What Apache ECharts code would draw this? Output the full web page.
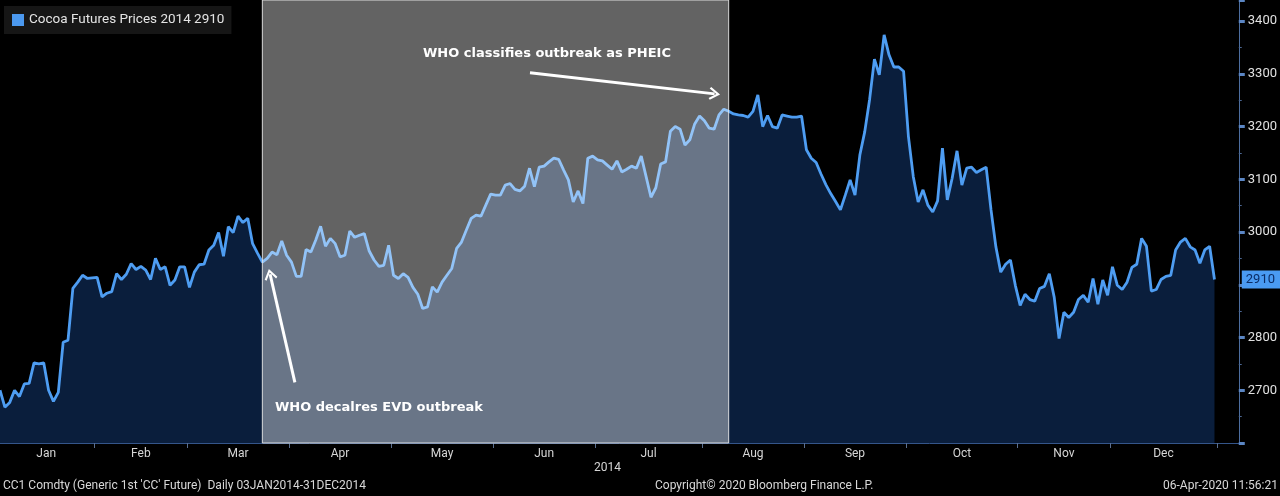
<!DOCTYPE html>
<html>
<head>
<meta charset="utf-8">
<script src="https://cdn.jsdelivr.net/npm/echarts@6/dist/echarts.min.js"></script>
<style>
  html, body { margin: 0; padding: 0; background: #000; }
  #main { width: 1280px; height: 496px; }
</style>
</head>
<body>
<div id="main"></div>
<script type="text/javascript">

    // exchange holidays 2014 (no trading)
    const holidays = ['2014-01-20', '2014-02-17', '2014-04-18', '2014-05-26',
        '2014-07-04', '2014-09-01', '2014-11-27', '2014-12-25'];
    const monthNames = ['Jan', 'Feb', 'Mar', 'Apr', 'May', 'Jun', 'Jul', 'Aug', 'Sep', 'Oct', 'Nov', 'Dec'];

    // CC1 daily close, 03JAN2014 - 31DEC2014
    const prices = [
        2700, 2668, 2677, 2700, 2688, 2712, 2713, 2752, 2750, 2752,
        2700, 2679, 2696, 2791, 2795, 2893, 2905, 2918, 2912, 2913,
        2914, 2877, 2884, 2887, 2921, 2910, 2920, 2940, 2929, 2935,
        2928, 2910, 2950, 2929, 2934, 2899, 2909, 2934, 2934, 2895,
        2924, 2938, 2939, 2966, 2975, 2999, 2954, 3010, 2999, 3030,
        3018, 3026, 2978, 2960, 2943, 2950, 2962, 2957, 2983, 2956,
        2943, 2916, 2916, 2967, 2962, 2985, 3011, 2973, 2988, 2978,
        2953, 2956, 3002, 2990, 2994, 2997, 2964, 2947, 2935, 2937,
        2975, 2918, 2912, 2921, 2914, 2895, 2882, 2855, 2858, 2896,
        2886, 2905, 2918, 2931, 2969, 2981, 3004, 3026, 3032, 3030,
        3051, 3072, 3070, 3070, 3089, 3092, 3081, 3078, 3087, 3121,
        3086, 3123, 3125, 3133, 3140, 3138, 3118, 3099, 3057, 3078,
        3054, 3140, 3144, 3137, 3135, 3127, 3119, 3135, 3114, 3119,
        3125, 3121, 3144, 3105, 3066, 3084, 3129, 3133, 3191, 3200,
        3195, 3165, 3175, 3205, 3220, 3211, 3197, 3195, 3222, 3233,
        3229, 3224, 3222, 3221, 3218, 3229, 3260, 3200, 3221, 3200,
        3197, 3222, 3220, 3218, 3218, 3220, 3156, 3140, 3132, 3110,
        3090, 3073, 3058, 3042, 3070, 3099, 3070, 3146, 3190, 3251,
        3328, 3298, 3374, 3336, 3313, 3313, 3305, 3181, 3105, 3057,
        3080, 3051, 3038, 3059, 3159, 3061, 3102, 3154, 3089, 3121,
        3123, 3113, 3118, 3123, 3042, 2972, 2924, 2939, 2947, 2899,
        2861, 2882, 2872, 2869, 2893, 2897, 2921, 2877, 2798, 2848,
        2838, 2848, 2872, 2880, 2867, 2912, 2863, 2909, 2880, 2934,
        2899, 2891, 2905, 2933, 2939, 2988, 2973, 2888, 2891, 2910,
        2916, 2918, 2966, 2981, 2988, 2972, 2966, 2941, 2966, 2973,
        2910
    ];

    // shaded period: WHO declares EVD outbreak -> WHO declares PHEIC
    const shadeDates = ['2014-03-24', '2014-08-08'];

    // annotations, x given in trading days from 03JAN2014
    const noteTexts = [
        ['WHO classifies outbreak as PHEIC', 112.6, 3338],
        ['WHO decalres EVD outbreak', 78, 2668]
    ];
    // [fromDay, fromPrice, toDay, toPrice]
    const noteArrows = [
        [109.1, 3302, 147.1, 3262],
        [60.7, 2715, 55.6, 2920]
    ];

    function tradingDays() {
        var out = [];
        var d = new Date(Date.UTC(2014, 0, 3));
        var end = Date.UTC(2014, 11, 31);
        while (d.getTime() <= end) {
            var s = d.toISOString().slice(0, 10);
            var wd = d.getUTCDay();
            if (wd !== 0 && wd !== 6 && holidays.indexOf(s) < 0) out.push(s);
            d.setUTCDate(d.getUTCDate() + 1);
        }
        return out;
    }

    var dates = tradingDays();

    var first = [], last = [];
    dates.forEach(function (s, i) {
        var m = +s.slice(5, 7) - 1;
        if (first[m] === undefined) first[m] = i;
        last[m] = i;
    });
    var tickValues = [];
    for (var m = 1; m < 12; m++) tickValues.push(first[m] - 0.5);
    tickValues.push(last[11] + 0.5);
    var labelValues = first.map(function (f, m) { return (f + last[m]) / 2; });

    var seriesData = prices.map(function (v, i) { return [i, v]; });
    var lastPrice = prices[prices.length - 1];

    var chevron = 'path://M10,0 L20,14 L17.5,16 L10,5.5 L2.5,16 L0,14 Z';
    var font = 'Roboto, "Liberation Sans", sans-serif';

    var myChart = echarts.init(document.getElementById('main'));
    var option = {
        backgroundColor: '#000',
        animation: false,
        textStyle: {fontFamily: font},
        grid: {left: 0, right: 41, top: 0, bottom: 53},
        legend: {
            left: 4, top: 6,
            backgroundColor: '#161616',
            padding: [7, 7, 7, 8],
            icon: 'rect',
            itemWidth: 12, itemHeight: 12, itemGap: 5,
            textStyle: {color: '#e4e4e4', fontSize: 13.5, fontFamily: font},
            formatter: function (name) { return name + ' ' + lastPrice; },
            data: ['Cocoa Futures Prices 2014']
        },
        xAxis: {
            type: 'value',
            min: 0, max: 255,
            splitLine: {show: false},
            axisLine: {onZero: false, lineStyle: {color: '#34558a', width: 1}},
            axisTick: {
                customValues: tickValues,
                length: 5,
                lineStyle: {color: '#5a6f90'}
            },
            axisLabel: {
                customValues: labelValues,
                color: '#d6d6d6', fontSize: 12, margin: 5,
                formatter: function (v) { return monthNames[labelValues.indexOf(v)] || ''; }
            }
        },
        yAxis: {
            type: 'value',
            position: 'right',
            min: 2600, max: 3440, interval: 100,
            splitLine: {show: false},
            axisLine: {show: true, onZero: false, lineStyle: {color: '#4d6e9f', width: 1}},
            axisTick: {show: true, inside: false, length: 6, lineStyle: {color: '#5b86c4', width: 3}},
            minorTick: {show: true, splitNumber: 2, length: 3, lineStyle: {color: '#4a6590'}},
            axisLabel: {
                color: '#e0e0e0', fontSize: 13, margin: 9,
                showMinLabel: false, showMaxLabel: false,
                formatter: function (v) { return String(v); }
            },
            axisPointer: {
                show: true,
                value: lastPrice,
                status: 'show',
                snap: false,
                triggerTooltip: false,
                lineStyle: {opacity: 0},
                label: {
                    show: true,
                    formatter: function (p) { return String(Math.round(p.value)); },
                    backgroundColor: '#4a9bf2',
                    color: '#0b2d66',
                    fontSize: 13,
                    padding: [3, 5, 2, 4],
                    borderRadius: 0,
                    margin: 4
                }
            }
        },
        series: [{
            name: 'Cocoa Futures Prices 2014',
            type: 'line',
            data: seriesData,
            showSymbol: false,
            symbol: 'none',
            itemStyle: {color: '#4b98ee'},
            lineStyle: {color: '#4e9df2', width: 2.8},
            areaStyle: {color: '#0a1e3c', opacity: 1},
            markArea: {
                z: 10,
                silent: true,
                itemStyle: {
                    color: 'rgba(255,255,255,0.39)',
                    borderColor: 'rgba(235,235,235,0.9)',
                    borderWidth: 1
                },
                data: [[{xAxis: dates.indexOf(shadeDates[0])}, {xAxis: dates.indexOf(shadeDates[1])}]]
            },
            markLine: {
                z: 12,
                silent: true,
                symbol: ['none', chevron],
                symbolSize: [13, 11],
                label: {show: false},
                lineStyle: {color: '#ffffff', width: 3, type: 'solid'},
                data: noteArrows.map(function (a) {
                    return [{coord: [a[0], a[1]]}, {coord: [a[2], a[3]]}];
                })
            },
            markPoint: {
                z: 12,
                silent: true,
                symbol: 'circle',
                symbolSize: 1,
                itemStyle: {color: 'rgba(0,0,0,0)'},
                label: {
                    show: true,
                    position: 'inside',
                    formatter: '{b}',
                    color: '#ffffff',
                    fontWeight: 'bold',
                    fontSize: 13,
                    fontFamily: '"DejaVu Sans", Verdana, sans-serif'
                },
                data: noteTexts.map(function (t) {
                    return {name: t[0], coord: [t[1], t[2]]};
                })
            }
        }],
        graphic: [
            {type: 'text', left: 594, top: 462,
                style: {text: '2014', fill: '#d6d6d6', font: '12px ' + font}},
            {type: 'text', left: 3, top: 480,
                style: {text: "CC1 Comdty (Generic 1st 'CC' Future)  Daily 03JAN2014-31DEC2014", fill: '#d8d8d8', font: '12px ' + font}},
            {type: 'text', left: 655, top: 480,
                style: {text: 'Copyright\u00a9 2020 Bloomberg Finance L.P.', fill: '#d8d8d8', font: '12px ' + font}},
            {type: 'text', right: 2, top: 480,
                style: {text: '06-Apr-2020 11:56:21', fill: '#d8d8d8', font: '12px ' + font}}
        ]
    };
    myChart.setOption(option);
</script>
</body>
</html>
